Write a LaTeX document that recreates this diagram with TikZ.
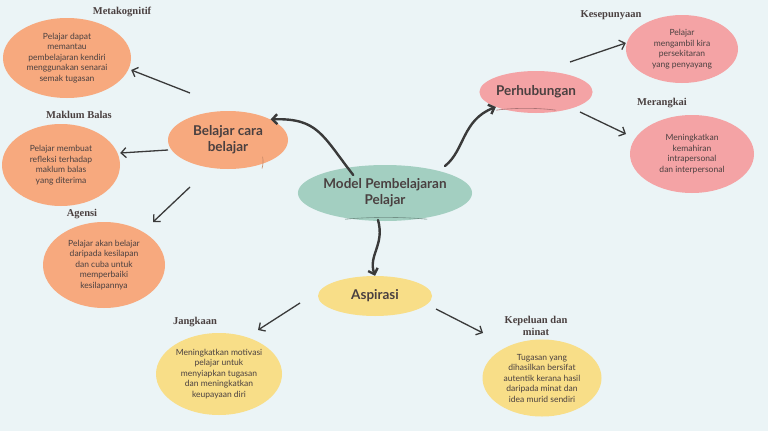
\documentclass[tikz,border=0pt]{standalone}
\usepackage{fontspec}
\setmainfont{Lato}
\newfontfamily\lblfont{Liberation Serif}
\usetikzlibrary{arrows.meta}
\definecolor{bg}{HTML}{EBF4F6}
\definecolor{orng}{HTML}{F7A97E}
\definecolor{pnk}{HTML}{F4A3A5}
\definecolor{yel}{HTML}{F8DE88}
\definecolor{teal}{HTML}{A3CFC1}
\definecolor{txt}{HTML}{4A4040}
\definecolor{arr}{HTML}{3A3A3A}
\tikzset{
 leaf/.style={ellipse,fill=#1,inner sep=0pt,text=txt,font=\fontsize{8.5}{10.5}\selectfont,align=center},
 hub/.style={ellipse,fill=#1,inner sep=0pt,text=txt,font=\bfseries\fontsize{13.5}{16}\selectfont,align=center},
 lbl/.style={font=\lblfont\bfseries\fontsize{10.5}{12}\selectfont,text=txt,align=center},
 thin/.style={draw=arr,line width=1.3pt,-{Straight Barb[length=5pt,width=10pt]}},
 thick/.style={draw=arr,line width=2.4pt,line cap=round,-{Straight Barb[length=5pt,width=10pt]}},
}
\usetikzlibrary{shapes.geometric}
\begin{document}
\begin{tikzpicture}[x=1pt,y=-1pt]
\fill[bg] (0,0) rectangle (768,431);
\useasboundingbox (0,0) rectangle (768,431);
% leaves
\node[leaf=orng,minimum width=128pt,minimum height=80pt] (meta) at (67,58) {Pelajar dapat\\memantau\\pembelajaran kendiri\\menggunakan senarai\\semak tugasan};
\node[lbl] (lmeta) at (122,12) {Metakognitif};
\node[leaf=orng,minimum width=118pt,minimum height=82pt] (mak) at (61,165) {Pelajar membuat\\refleksi terhadap\\maklum balas\\yang diterima};
\node[lbl] (lmak) at (79,115) {Maklum Balas};
\node[leaf=orng,minimum width=122pt,minimum height=86pt] (age) at (104,265) {Pelajar akan belajar\\daripada kesilapan\\dan cuba untuk\\memperbaiki\\kesilapannya};
\node[lbl] (lage) at (82,214) {Agensi};
\node[leaf=pnk,minimum width=112pt,minimum height=68pt] (kes) at (682,49) {Pelajar\\mengambil kira\\persekitaran\\yang penyayang};
\node[lbl] (lkes) at (611,15) {Kesepunyaan};
\node[leaf=pnk,minimum width=124pt,minimum height=78pt] (mer) at (692,154) {Meningkatkan\\kemahiran\\intrapersonal\\dan interpersonal};
\node[lbl] (lmer) at (662,103) {Merangkai};
\node[leaf=yel,minimum width=126pt,minimum height=82pt] (jan) at (219,374) {Meningkatkan motivasi\\pelajar untuk\\menyiapkan tugasan\\dan meningkatkan\\keupayaan diri};
\node[lbl] (ljan) at (195,322) {Jangkaan};
\node[leaf=yel,minimum width=119pt,minimum height=77pt] (kep) at (542,378) {Tugasan yang\\dihasilkan bersifat\\autentik kerana hasil\\daripada minat dan\\idea murid sendiri};
\node[lbl] (lkep) at (536,326) {Kepeluan dan\\minat};
% hubs
\node[hub=orng,minimum width=120pt,minimum height=58pt] (bel) at (228,140) {Belajar cara\\belajar};
\draw[orng!80!black,line width=0.6pt] (bel.south east) ++(-8,-4) arc[start angle=-20,end angle=30,x radius=8,y radius=14];
\node[hub=teal,minimum width=170pt,minimum height=56pt] (mod) at (385,193) {Model Pembelajaran\\Pelajar};
\draw[teal!70!black,line width=0.6pt] (mod.south) ++(-40,-2) arc[start angle=250,end angle=290,x radius=120,y radius=30];
\node[hub=pnk,minimum width=104pt,minimum height=42pt] (per) at (536,92) {Perhubungan};
\draw[pnk!70!black,line width=0.6pt] (per.south) ++(-40,-3) arc[start angle=240,end angle=300,x radius=60,y radius=14];
\node[hub=yel,minimum width=114pt,minimum height=40pt] (asp) at (375,296) {Aspirasi};
% connectors
\coordinate (a1) at (190,93); \coordinate (a2) at (168,150); \coordinate (a3) at (190,187);
\draw[thin] (a1) -- (meta.east |- 0,70) ;
\draw[thin] (a2) -- (mak.east |- 0,153);
\draw[thin] (a3) -- (153,222);
\draw[thick] (mod.north west) ++(30,2) coordinate (m1) .. controls (322,135) and (318,118) .. (bel.north east);
\draw[thick] (445,166) .. controls (465,150) and (462,120) .. (per.south west);
\draw[thick] (378,220) .. controls (385,245) and (368,255) .. (asp.north);
\draw[thin] (570,62) -- (kes.west |- 0,43);
\draw[thin] (580,112) -- (626,134);
\draw[thin] (300,303) -- (258,330);
\draw[thin] (436,309) -- (483,333);
\end{tikzpicture}
\end{document}
